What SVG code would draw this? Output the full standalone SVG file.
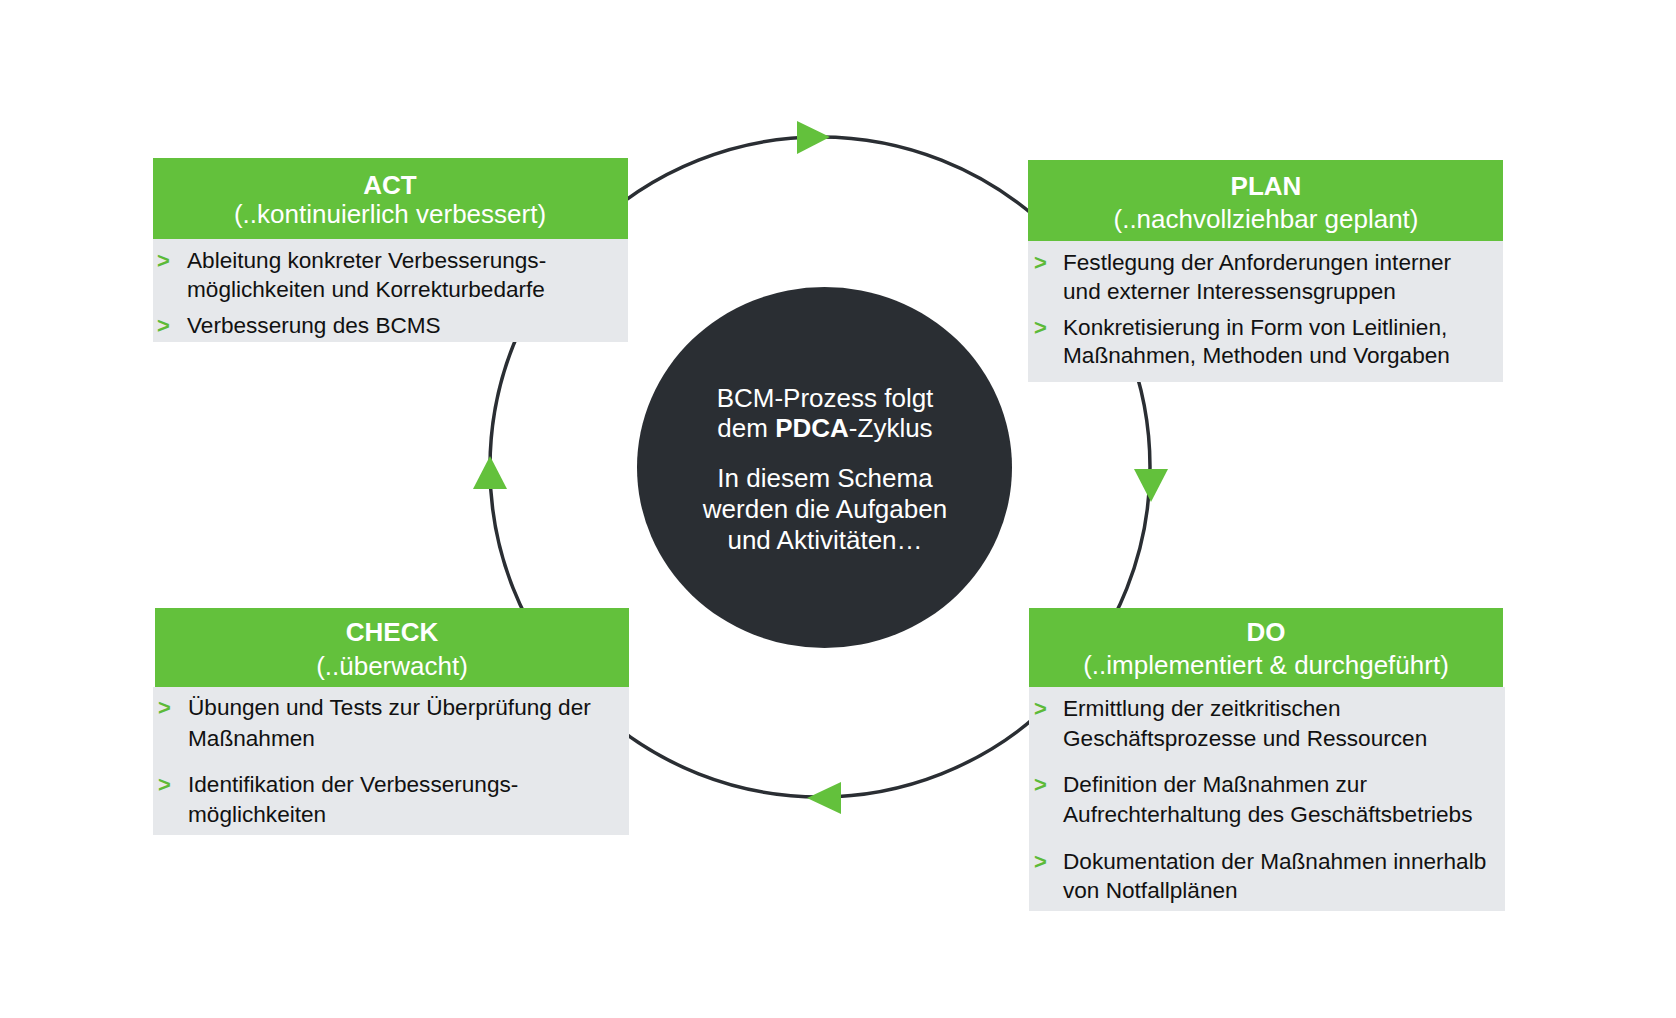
<svg xmlns="http://www.w3.org/2000/svg" width="1676" height="1018" viewBox="0 0 1676 1018">
<style>
.hdr{fill:#63c13c}
.body{fill:#e6e8eb}
.ttl{font-family:"Liberation Sans",Arial,sans-serif;font-size:26px;font-weight:bold;fill:#fff;text-anchor:middle}
.sub{font-family:"Liberation Sans",Arial,sans-serif;font-size:26px;fill:#fff;text-anchor:middle}
.txt{font-family:"Liberation Sans",Arial,sans-serif;font-size:22.6px;fill:#111}
.bul{font-family:"Liberation Sans",Arial,sans-serif;font-size:22px;font-weight:bold;fill:#5cba38}
.ctr{font-family:"Liberation Sans",Arial,sans-serif;font-size:26px;fill:#fff;text-anchor:middle}
.arr{fill:#63c13c}
</style>
<rect width="1676" height="1018" fill="#fff"/>
<g id="connectors">
<circle cx="820" cy="467" r="330" fill="none" stroke="#2a2e33" stroke-width="3.5"/>
<polygon class="arr" points="797,121 797,154 830,137"/>
<polygon class="arr" points="1134,469 1168,469 1151,502"/>
<polygon class="arr" points="841,782 841,814 807,798"/>
<polygon class="arr" points="473,489 507,489 490,456"/>
</g>
<g id="center">
<ellipse cx="824.5" cy="467.5" rx="187.5" ry="180.5" fill="#2a2e33"/>
<text class="ctr" x="825" y="407">BCM-Prozess folgt</text>
<text class="ctr" x="825" y="437">dem <tspan font-weight="bold">PDCA</tspan>-Zyklus</text>
<text class="ctr" x="825" y="487">In diesem Schema</text>
<text class="ctr" x="825" y="518">werden die Aufgaben</text>
<text class="ctr" x="825" y="549">und Aktivitäten…</text>
</g>
<g id="act">
<rect class="body" x="153" y="239" width="475" height="103"/>
<rect class="hdr" x="153" y="158" width="475" height="81"/>
<text class="ttl" x="390" y="194">ACT</text>
<text class="sub" x="390" y="223">(..kontinuierlich verbessert)</text>
<text class="bul" x="157" y="268">&gt;</text>
<text class="txt" x="187" y="268">Ableitung konkreter Verbesserungs-</text>
<text class="txt" x="187" y="297">möglichkeiten und Korrekturbedarfe</text>
<text class="bul" x="157" y="333">&gt;</text>
<text class="txt" x="187" y="333">Verbesserung des BCMS</text>
</g>
<g id="plan">
<rect class="body" x="1028" y="241" width="475" height="141"/>
<rect class="hdr" x="1028" y="160" width="475" height="81"/>
<text class="ttl" x="1266" y="195">PLAN</text>
<text class="sub" x="1266" y="228">(..nachvollziehbar geplant)</text>
<text class="bul" x="1034" y="270">&gt;</text>
<text class="txt" x="1063" y="270">Festlegung der Anforderungen interner</text>
<text class="txt" x="1063" y="299">und externer Interessensgruppen</text>
<text class="bul" x="1034" y="335">&gt;</text>
<text class="txt" x="1063" y="335">Konkretisierung in Form von Leitlinien,</text>
<text class="txt" x="1063" y="363">Maßnahmen, Methoden und Vorgaben</text>
</g>
<g id="check">
<rect class="body" x="153" y="687" width="476" height="148"/>
<rect class="hdr" x="155" y="608" width="474" height="79"/>
<text class="ttl" x="392" y="641">CHECK</text>
<text class="sub" x="392" y="675">(..überwacht)</text>
<text class="bul" x="158" y="715">&gt;</text>
<text class="txt" x="188" y="715">Übungen und Tests zur Überprüfung der</text>
<text class="txt" x="188" y="746">Maßnahmen</text>
<text class="bul" x="158" y="792">&gt;</text>
<text class="txt" x="188" y="792">Identifikation der Verbesserungs-</text>
<text class="txt" x="188" y="822">möglichkeiten</text>
</g>
<g id="do">
<rect class="body" x="1029" y="687" width="476" height="224"/>
<rect class="hdr" x="1029" y="608" width="474" height="79"/>
<text class="ttl" x="1266" y="641">DO</text>
<text class="sub" x="1266" y="674">(..implementiert &amp; durchgeführt)</text>
<text class="bul" x="1034" y="716">&gt;</text>
<text class="txt" x="1063" y="716">Ermittlung der zeitkritischen</text>
<text class="txt" x="1063" y="746">Geschäftsprozesse und Ressourcen</text>
<text class="bul" x="1034" y="792">&gt;</text>
<text class="txt" x="1063" y="792">Definition der Maßnahmen zur</text>
<text class="txt" x="1063" y="822">Aufrechterhaltung des Geschäftsbetriebs</text>
<text class="bul" x="1034" y="869">&gt;</text>
<text class="txt" x="1063" y="869">Dokumentation der Maßnahmen innerhalb</text>
<text class="txt" x="1063" y="898">von Notfallplänen</text>
</g>
</svg>
